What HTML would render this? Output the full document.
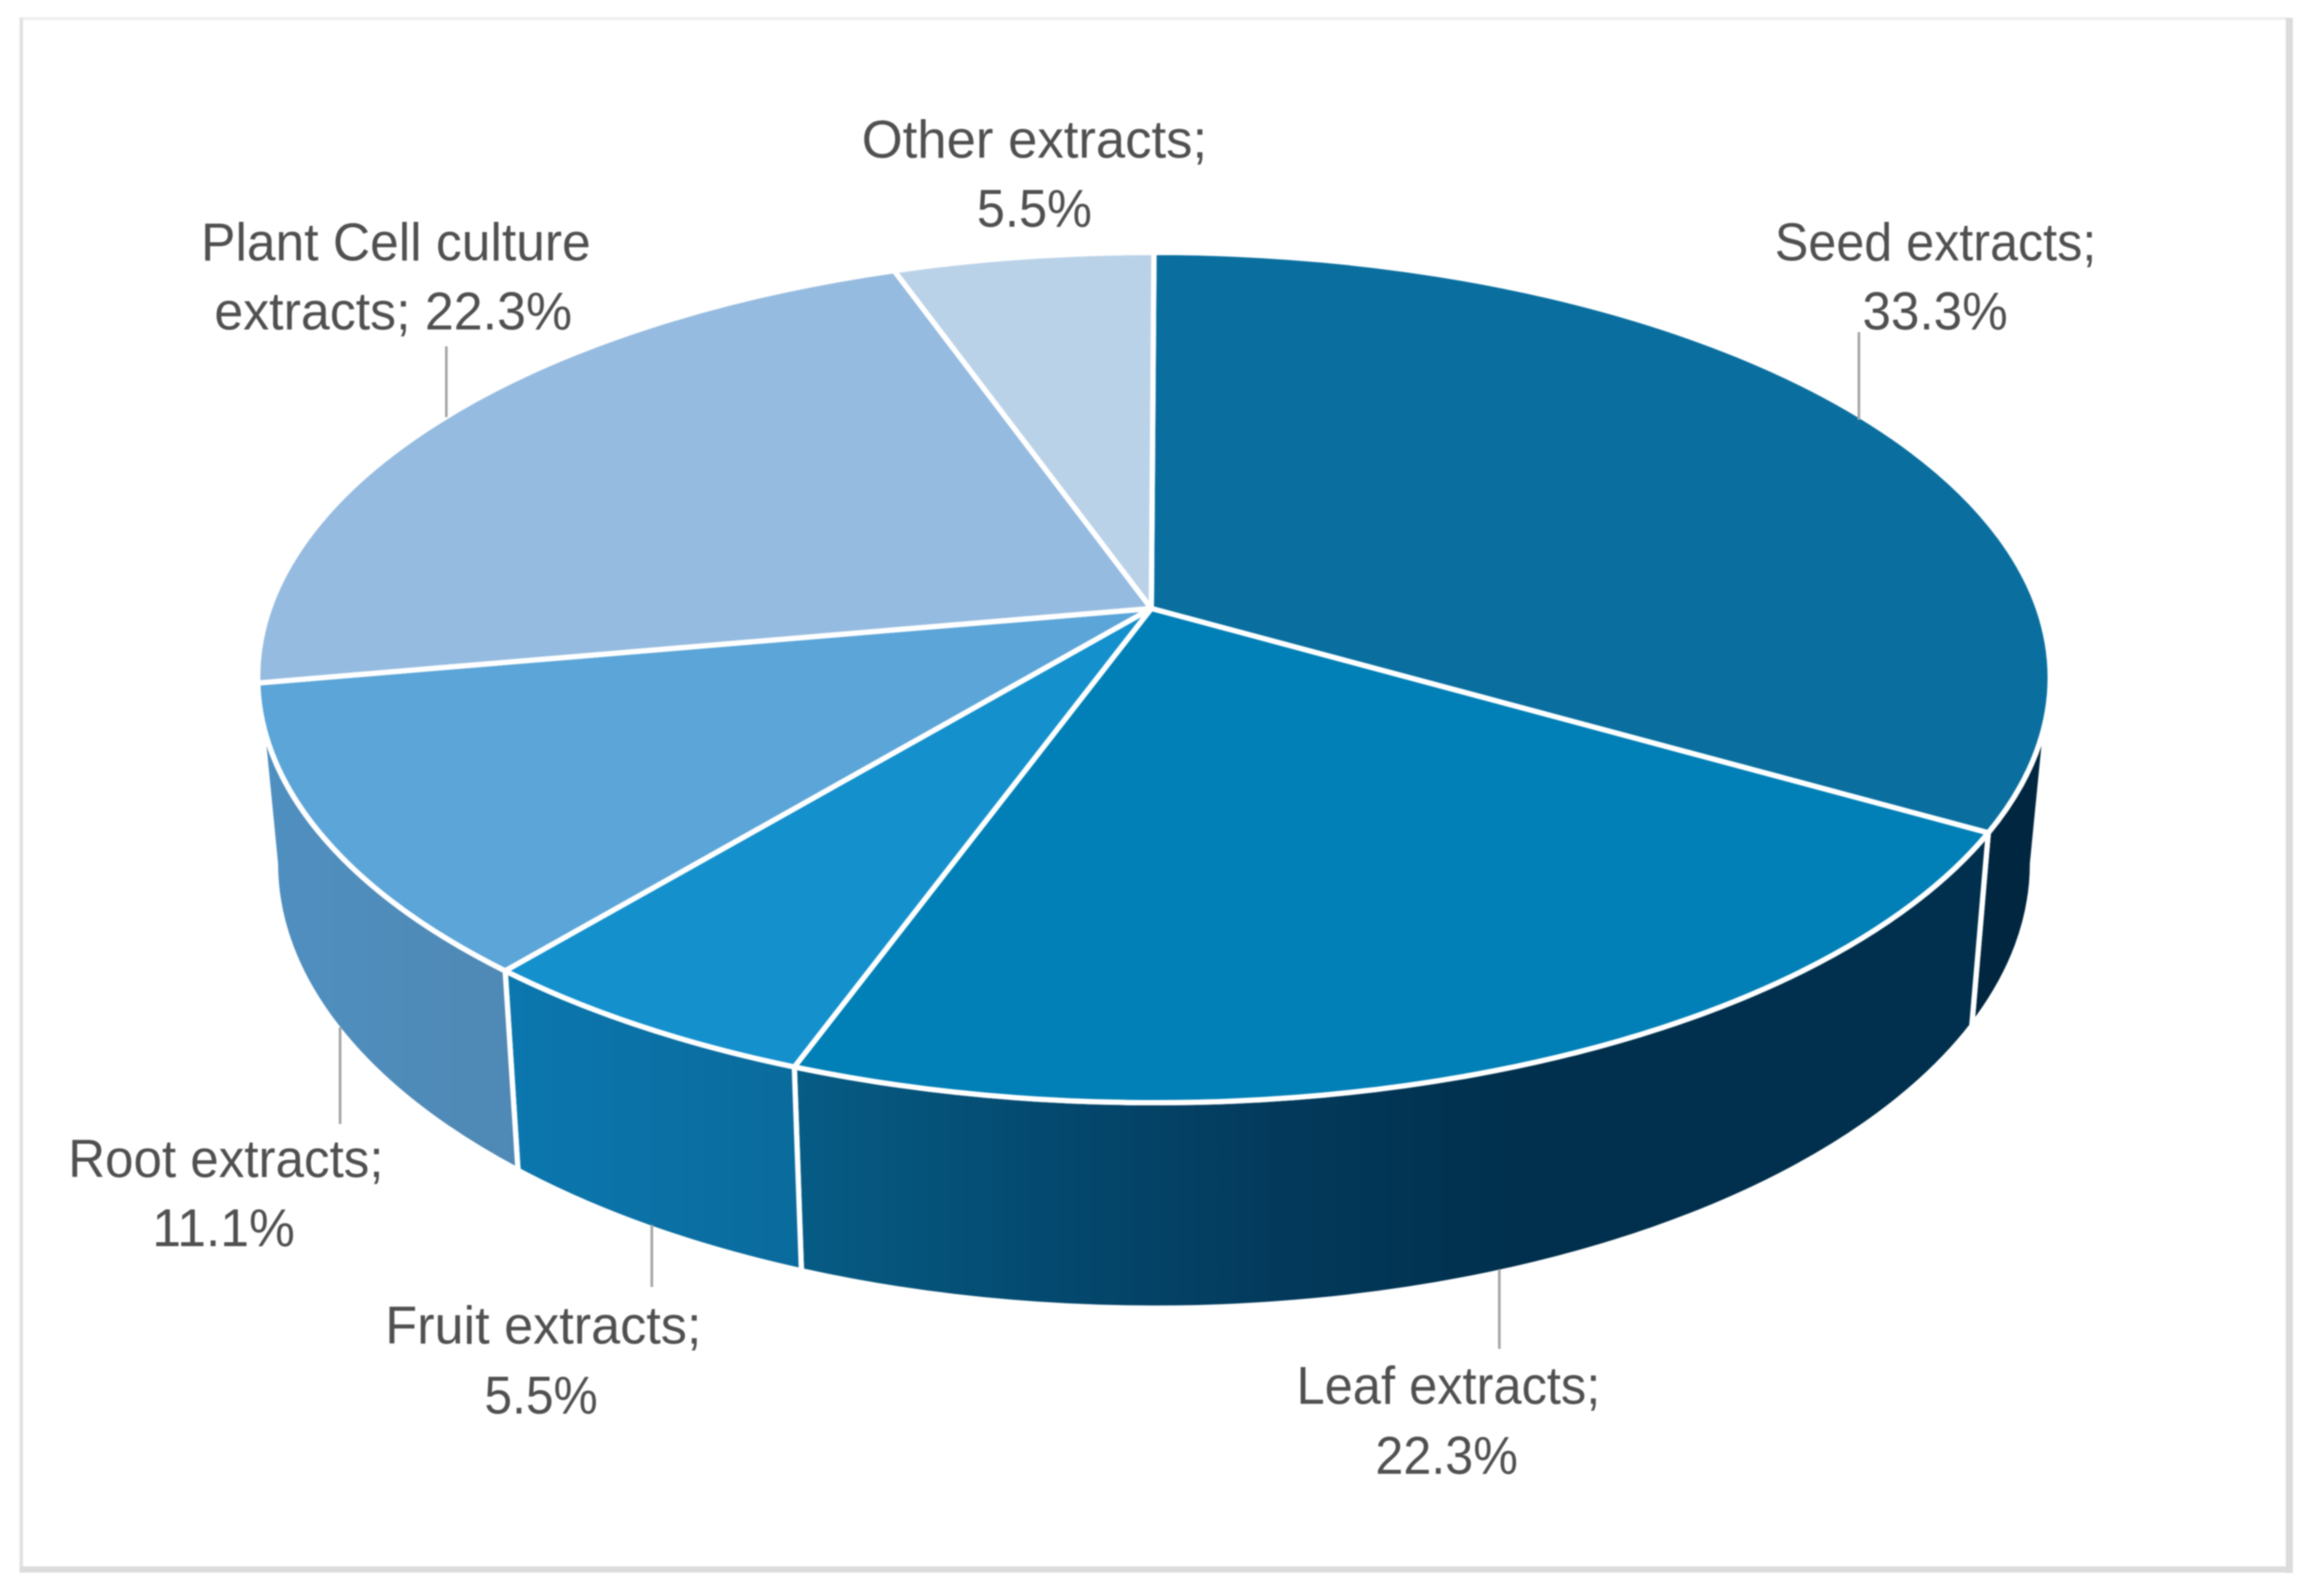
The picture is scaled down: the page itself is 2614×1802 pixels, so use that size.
<!DOCTYPE html>
<html lang="en">
<head>
<meta charset="utf-8">
<title>Plant extracts pie chart</title>
<style>
html,body{margin:0;padding:0;background:#fff;}
#stage{display:block;width:2614px;height:1802px;filter:blur(0.7px);}
text{font-family:"Liberation Sans",sans-serif;font-size:60px;fill:#505050;text-anchor:start;}
</style>
</head>
<body>
<svg id="stage" xmlns="http://www.w3.org/2000/svg" width="2614" height="1802" viewBox="0 0 2614 1802">
  <rect x="0" y="0" width="2614" height="1802" fill="#ffffff"/>
  <g>
    <line x1="22" y1="21" x2="2585" y2="21" stroke="#ededed" stroke-width="3"/>
    <line x1="24" y1="20" x2="24" y2="1775" stroke="#e2e2e2" stroke-width="4"/>
    <line x1="2585" y1="20" x2="2585" y2="1776" stroke="#dcdcdc" stroke-width="8"/>
    <line x1="22" y1="1772" x2="2589" y2="1772" stroke="#dcdcdc" stroke-width="7"/>
  </g>
  <defs id="gradients"></defs>
  <g id="walls"></g>
  <g id="tops"></g>
  <g id="leaders"></g>
  <g id="labels"></g>
</svg>
<script>
// ---- data ----
const sliceKeys = ['seed', 'leaf', 'fruit', 'root', 'plant-cell', 'other'];
const sliceValues = [33.3, 22.3, 5.5, 11.1, 22.3, 5.5];
const labelFirstLines = ['Seed extracts;', 'Leaf extracts;', 'Fruit extracts;', 'Root extracts;', 'Plant Cell  culture', 'Other extracts;'];
const labelValuePrefixes = ['', '', '', '', 'extracts; ', ''];

// ---- styles ----
const topColors = ['#0a6f9f', '#0080b7', '#1490cd', '#5ca5d8', '#96bbe0', '#bad2e8'];
const wallColors = [
  ['#01263f', '#01263f'],
  ['#065c85', '#044a70', '#033a5c', '#00304d', '#00304d', '#00304d'],
  ['#0b77ae', '#0a6a9c'],
  ['#4f8fc0', '#4f88b4'],
  ['#000000', '#000000'],
  ['#000000', '#000000']
];

// ---- label layout (first line box, second line box) ----
const labelBoxes = [
  [2004, 294, 363, 2103, 372, 164],
  [1464, 1585, 343, 1553, 1664, 161],
  [435, 1517, 357, 547, 1596, 128],
  [77, 1329, 356, 172, 1407, 161],
  [227, 294, 440, 242, 372, 404],
  [973, 178, 390, 1103, 256, 130]
];
const leaderSegments = [
  [2099, 375, 474],
  [1693, 1433, 1523],
  [736, 1383, 1453],
  [384, 1160, 1269],
  [504, 391, 471],
  null
];

// ---- pie geometry (perspective projection of a circle) ----
const topEllipse = {cx: 1303, cy: 765, rx: 1012, ry: 480};
const baseEllipse = {cx: 1303, cy: 975, rx: 992, ry: 502};
const apex = {x: 1300, y: 687};
const wallTipDeg = 8.6;
const wallTipFlare = 5;
const svgNS = 'http://www.w3.org/2000/svg';

const apexNorm = (apex.y - topEllipse.cy) / topEllipse.ry;

function valueToPhi(cumulative, total) {
  const theta = cumulative / total * 2 * Math.PI;
  const u = Math.sin(theta);
  const v = -Math.cos(theta);
  const d = 1 + v * apexNorm;
  const Y = (v + apexNorm) / d;
  const X = u * Math.sqrt(1 - apexNorm * apexNorm) / d;
  return Math.atan2(Y, X) * 180 / Math.PI;
}
function ellipsePoint(e, deg) {
  const r = deg * Math.PI / 180;
  return {x: e.cx + e.rx * Math.cos(r), y: e.cy + e.ry * Math.sin(r)};
}
function fmt(p) { return p.x.toFixed(2) + ' ' + p.y.toFixed(2); }

const total = sliceValues.reduce((a, b) => a + b, 0);
const phis = [-90];
let running = 0;
sliceValues.forEach(function (v, i) {
  running += v;
  let phi = i === sliceValues.length - 1 ? 270 : valueToPhi(running, total);
  while (phi < phis[phis.length - 1]) phi += 360;
  phis.push(phi);
});

const gradients = document.getElementById('gradients');
const walls = document.getElementById('walls');
const tops = document.getElementById('tops');
const leaders = document.getElementById('leaders');
const labels = document.getElementById('labels');

// side walls
sliceValues.forEach(function (v, i) {
  const a = Math.max(phis[i], wallTipDeg);
  const b = Math.min(phis[i + 1], 180 - wallTipDeg);
  if (a >= b) return;
  const t1 = ellipsePoint(topEllipse, a);
  const t2 = ellipsePoint(topEllipse, b);
  const b1 = ellipsePoint(baseEllipse, a <= wallTipDeg ? 0 : a);
  const b2 = ellipsePoint(baseEllipse, b >= 180 - wallTipDeg ? 180 : b);
  let lead = '';
  let tail = ' Z';
  if (a <= wallTipDeg) {
    lead = 'M' + (t1.x + wallTipFlare).toFixed(2) + ' ' + t1.y.toFixed(2) + ' L' + fmt(t1);
    tail = ' Z';
  } else {
    lead = 'M' + fmt(t1);
  }
  let afterArc = '';
  if (b >= 180 - wallTipDeg) {
    afterArc = ' L' + (t2.x - wallTipFlare).toFixed(2) + ' ' + t2.y.toFixed(2);
  }

  const grad = document.createElementNS(svgNS, 'linearGradient');
  grad.setAttribute('id', 'wall-grad-' + i);
  grad.setAttribute('gradientUnits', 'userSpaceOnUse');
  grad.setAttribute('x1', Math.min(t1.x, t2.x, b1.x, b2.x));
  grad.setAttribute('x2', Math.max(t1.x, t2.x, b1.x, b2.x));
  grad.setAttribute('y1', 0);
  grad.setAttribute('y2', 0);
  wallColors[i].forEach(function (c, k) {
    const stop = document.createElementNS(svgNS, 'stop');
    stop.setAttribute('offset', k / (wallColors[i].length - 1));
    stop.setAttribute('stop-color', c);
    grad.appendChild(stop);
  });
  gradients.appendChild(grad);

  const path = document.createElementNS(svgNS, 'path');
  path.setAttribute('d',
    lead +
    ' A' + topEllipse.rx + ' ' + topEllipse.ry + ' 0 0 1 ' + fmt(t2) + afterArc +
    ' L' + fmt(b2) +
    ' A' + baseEllipse.rx + ' ' + baseEllipse.ry + ' 0 0 0 ' + fmt(b1) + tail);
  path.setAttribute('fill', 'url(#wall-grad-' + i + ')');
  path.setAttribute('stroke', '#ffffff');
  path.setAttribute('stroke-width', '6');
  path.setAttribute('stroke-linejoin', 'round');
  
  
  walls.appendChild(path);
});

// top slices
sliceValues.forEach(function (v, i) {
  const p1 = ellipsePoint(topEllipse, phis[i]);
  const p2 = ellipsePoint(topEllipse, phis[i + 1]);
  const large = phis[i + 1] - phis[i] > 180 ? 1 : 0;
  const path = document.createElementNS(svgNS, 'path');
  path.setAttribute('d',
    'M' + apex.x + ' ' + apex.y +
    ' L' + fmt(p1) +
    ' A' + topEllipse.rx + ' ' + topEllipse.ry + ' 0 ' + large + ' 1 ' + fmt(p2) + ' Z');
  path.setAttribute('fill', topColors[i]);
  path.setAttribute('stroke', '#ffffff');
  path.setAttribute('stroke-width', '6');
  path.setAttribute('stroke-linejoin', 'round');
  
  
  tops.appendChild(path);
});

// leader lines
leaderSegments.forEach(function (seg, i) {
  if (!seg) return;
  const line = document.createElementNS(svgNS, 'line');
  line.setAttribute('x1', seg[0]);
  line.setAttribute('x2', seg[0]);
  line.setAttribute('y1', seg[1]);
  line.setAttribute('y2', seg[2]);
  line.setAttribute('stroke', '#a6a6a6');
  line.setAttribute('stroke-width', '3');
  
  
  leaders.appendChild(line);
});

// labels
sliceValues.forEach(function (v, i) {
  const box = labelBoxes[i];
  const first = document.createElementNS(svgNS, 'text');
  first.setAttribute('x', box[0]);
  first.setAttribute('y', box[1]);
  first.setAttribute('textLength', box[2]);
  first.setAttribute('lengthAdjust', 'spacingAndGlyphs');
  first.setAttribute('xml:space', 'preserve');
  first.textContent = labelFirstLines[i];
  
  
  labels.appendChild(first);

  const second = document.createElementNS(svgNS, 'text');
  second.setAttribute('x', box[3]);
  second.setAttribute('y', box[4]);
  second.setAttribute('textLength', box[5]);
  second.setAttribute('lengthAdjust', 'spacingAndGlyphs');
  second.textContent = labelValuePrefixes[i] + v.toFixed(1) + '%';
  
  
  labels.appendChild(second);
});
</script>
</body>
</html>
